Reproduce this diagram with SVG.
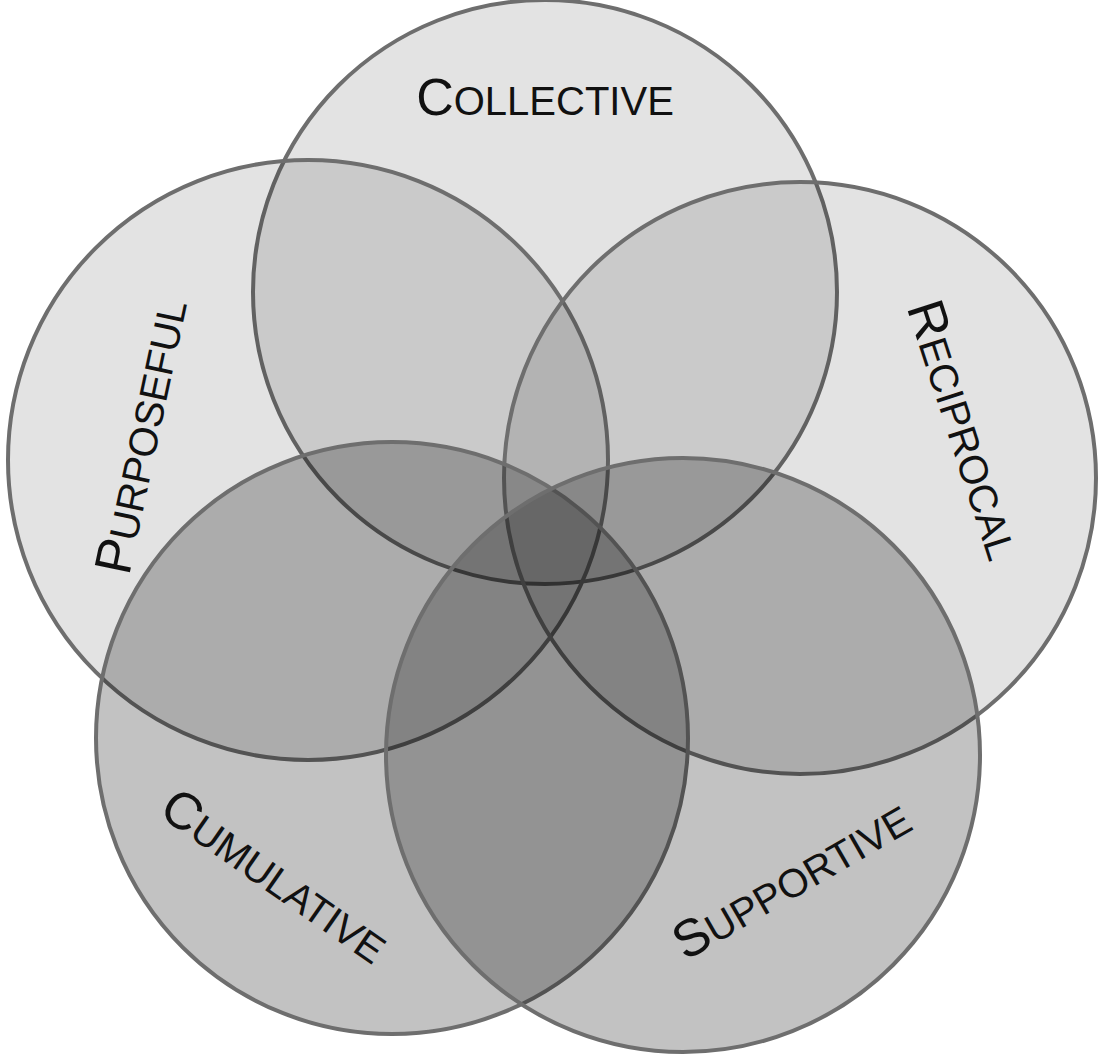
<svg xmlns="http://www.w3.org/2000/svg" width="1105" height="1060" viewBox="0 0 1105 1060">
<style>
.c{stroke:#6e6e6e;stroke-width:4}
.l{fill:#000;fill-opacity:0.11}
.d{fill:#000;fill-opacity:0.24}
text{font-family:"Liberation Sans",Arial,sans-serif;font-size:40px;fill:#111;text-anchor:middle}
.b{font-size:52px}
</style>
<rect width="1105" height="1060" fill="#fff"/>
<g id="collective"><circle class="c l" cx="545" cy="292" r="292"/><text x="545" y="115"><tspan class="b">C</tspan>OLLECTIVE</text></g>
<g id="purposeful"><circle class="c l" cx="308" cy="460" r="300"/><text transform="translate(158,440) rotate(-78)"><tspan class="b">P</tspan>URPOSEFUL</text></g>
<g id="reciprocal"><circle class="c l" cx="800" cy="478" r="296"/><text transform="translate(948,435) rotate(72)"><tspan class="b">R</tspan>ECIPROCAL</text></g>
<g id="cumulative"><circle class="c d" cx="392" cy="738" r="296"/><text transform="translate(265,890) rotate(35)"><tspan class="b">C</tspan>UMULATIVE</text></g>
<g id="supportive"><circle class="c d" cx="683" cy="755" r="297"/><text transform="translate(800,895) rotate(-30)"><tspan class="b">S</tspan>UPPORTIVE</text></g>
<g id="connectors"/>
</svg>
